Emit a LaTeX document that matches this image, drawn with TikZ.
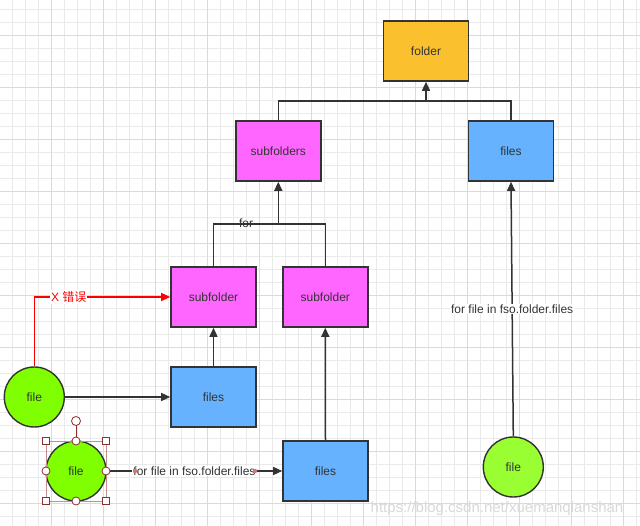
\documentclass[tikz,border=0pt]{standalone}
\usepackage{fontspec}
\setmainfont{Liberation Sans}
\newfontfamily\cjk{Noto Sans CJK SC}
\usetikzlibrary{arrows.meta}
\definecolor{txt}{HTML}{333333}
\definecolor{edge}{HTML}{333333}
\definecolor{gridl}{HTML}{EAEAEA}
\definecolor{gridd}{HTML}{DADADA}
\definecolor{cfolder}{HTML}{FBC02D}
\definecolor{cmag}{HTML}{FF66FF}
\definecolor{cblue}{HTML}{66B2FF}
\definecolor{cgreen}{HTML}{80FF00}
\definecolor{cgreenb}{HTML}{99FF33}
\definecolor{cred}{HTML}{FF0000}
\definecolor{handle}{HTML}{8B2E2E}
\definecolor{handlel}{HTML}{C09090}
\begin{document}
\begin{tikzpicture}[x=1pt,y=-1pt,
  box/.style={draw=edge, line width=1.6pt, minimum width=85pt, minimum height=60pt, inner sep=0pt, font=\fontsize{12}{14}\selectfont, text=txt},
  circ/.style={circle, draw=edge, line width=1.4pt, minimum size=60pt, inner sep=0pt, font=\fontsize{12}{14}\selectfont, text=txt},
  link/.style={draw=edge, line width=1.5pt},
  conn/.style={link, -{Triangle[length=9pt,width=8pt]}},
  lbl/.style={fill=white, inner sep=1pt, font=\fontsize{12}{14}\selectfont, text=txt},
  hsq/.style={draw=handle, fill=white, line width=0.8pt, minimum size=7pt, inner sep=0pt},
  hci/.style={circle, draw=handle, fill=white, line width=0.8pt, minimum size=8pt, inner sep=0pt}
]
\useasboundingbox (0,0) rectangle (640,526);
\fill[white] (0,0) rectangle (640,526);
% grid
\foreach \i in {0,...,48} {
  \draw[gridl, line width=1pt] (12.3+13*\i,0) -- (12.3+13*\i,526);
}
\foreach \i in {0,...,40} {
  \draw[gridl, line width=1pt] (0,9.3+13*\i) -- (640,9.3+13*\i);
}
\foreach \i in {0,...,11} {
  \draw[gridd, line width=1pt] (51.3+52*\i,0) -- (51.3+52*\i,526);
}
\foreach \i in {0,...,9} {
  \draw[gridd, line width=1pt] (0,35.3+52*\i) -- (640,35.3+52*\i);
}

% nodes
\node[box, fill=cfolder] (folder) at (426,51) {folder};
\node[box, fill=cmag] (subfolders) at (278.3,151) {subfolders};
\node[box, fill=cblue] (filesR) at (511,151) {files};
\node[box, fill=cmag] (subA) at (213.5,297) {subfolder};
\node[box, fill=cmag] (subB) at (325.3,297) {subfolder};
\node[box, fill=cblue] (filesA) at (213.5,397) {files};
\node[box, fill=cblue] (filesB) at (325.5,471) {files};
\node[circ, fill=cgreen] (fileA) at (34.3,397) {file};
\node[circ, fill=cgreen] (fileB) at (76,471) {file};
\node[circ, fill=cgreenb] (fileC) at (513.3,467) {file};

\coordinate (j1) at (426,101);
\coordinate (j2) at (278.3,224);

% connectors
\draw[link] (subfolders.north) |- (j1);
\draw[link] (filesR.north) |- (j1);
\draw[conn] (j1) -- (folder.south);

\draw[link] (subA.north) |- (j2);
\draw[link] (subB.north) |- (j2);
\draw[conn] (j2) -- (subfolders.south);
\node[font=\fontsize{12}{14}\selectfont, text=txt, inner sep=0pt] (forlbl) at (246,223.5) {for};

\draw[conn] (filesA.north) -- (subA.south);
\draw[conn] (fileA.east) -- (filesA.west);
\draw[draw=cred, line width=1.5pt, -{Triangle[length=9pt,width=8pt]}] (fileA.north) |- (subA.west)
  node[pos=0.627, fill=white, inner sep=1pt, text=cred, font=\fontsize{12}{14}\selectfont] {X {\cjk 错误}};

\draw[conn] (fileB.east) -- (filesB.west) node[midway, lbl] {for file in fso.folder.files};
\fill[handle!70!red!60] (135,471) circle (2.2pt);
\fill[handle!70!red!60] (255,471) circle (2.2pt);

\draw[conn] (filesB.north) -- (subB.south);
\draw[conn] (fileC.north) -- (filesR.south) node[midway, lbl] {for file in fso.folder.files};

% selection handles around fileB
\draw[handlel, line width=0.7pt] (46,441) rectangle (106,501);
\draw[handle, line width=0.8pt] (76,425) -- (76,441);
\node[hsq] (h1) at (46,441) {};
\node[hsq] (h2) at (106,441) {};
\node[hsq] (h3) at (46,501) {};
\node[hsq] (h4) at (106,501) {};
\node[hci] (h5) at (76,441) {};
\node[hci] (h6) at (46,471) {};
\node[hci] (h7) at (106,471) {};
\node[hci] (h8) at (76,501) {};
\node[hci, minimum size=9pt] (h9) at (76,421) {};

% watermark
\node[text=gray!30, font=\fontsize{15}{17}\selectfont, inner sep=0pt] (wm) at (497,509) {https://blog.csdn.net/xuemanqianshan};
\end{tikzpicture}
\end{document}
